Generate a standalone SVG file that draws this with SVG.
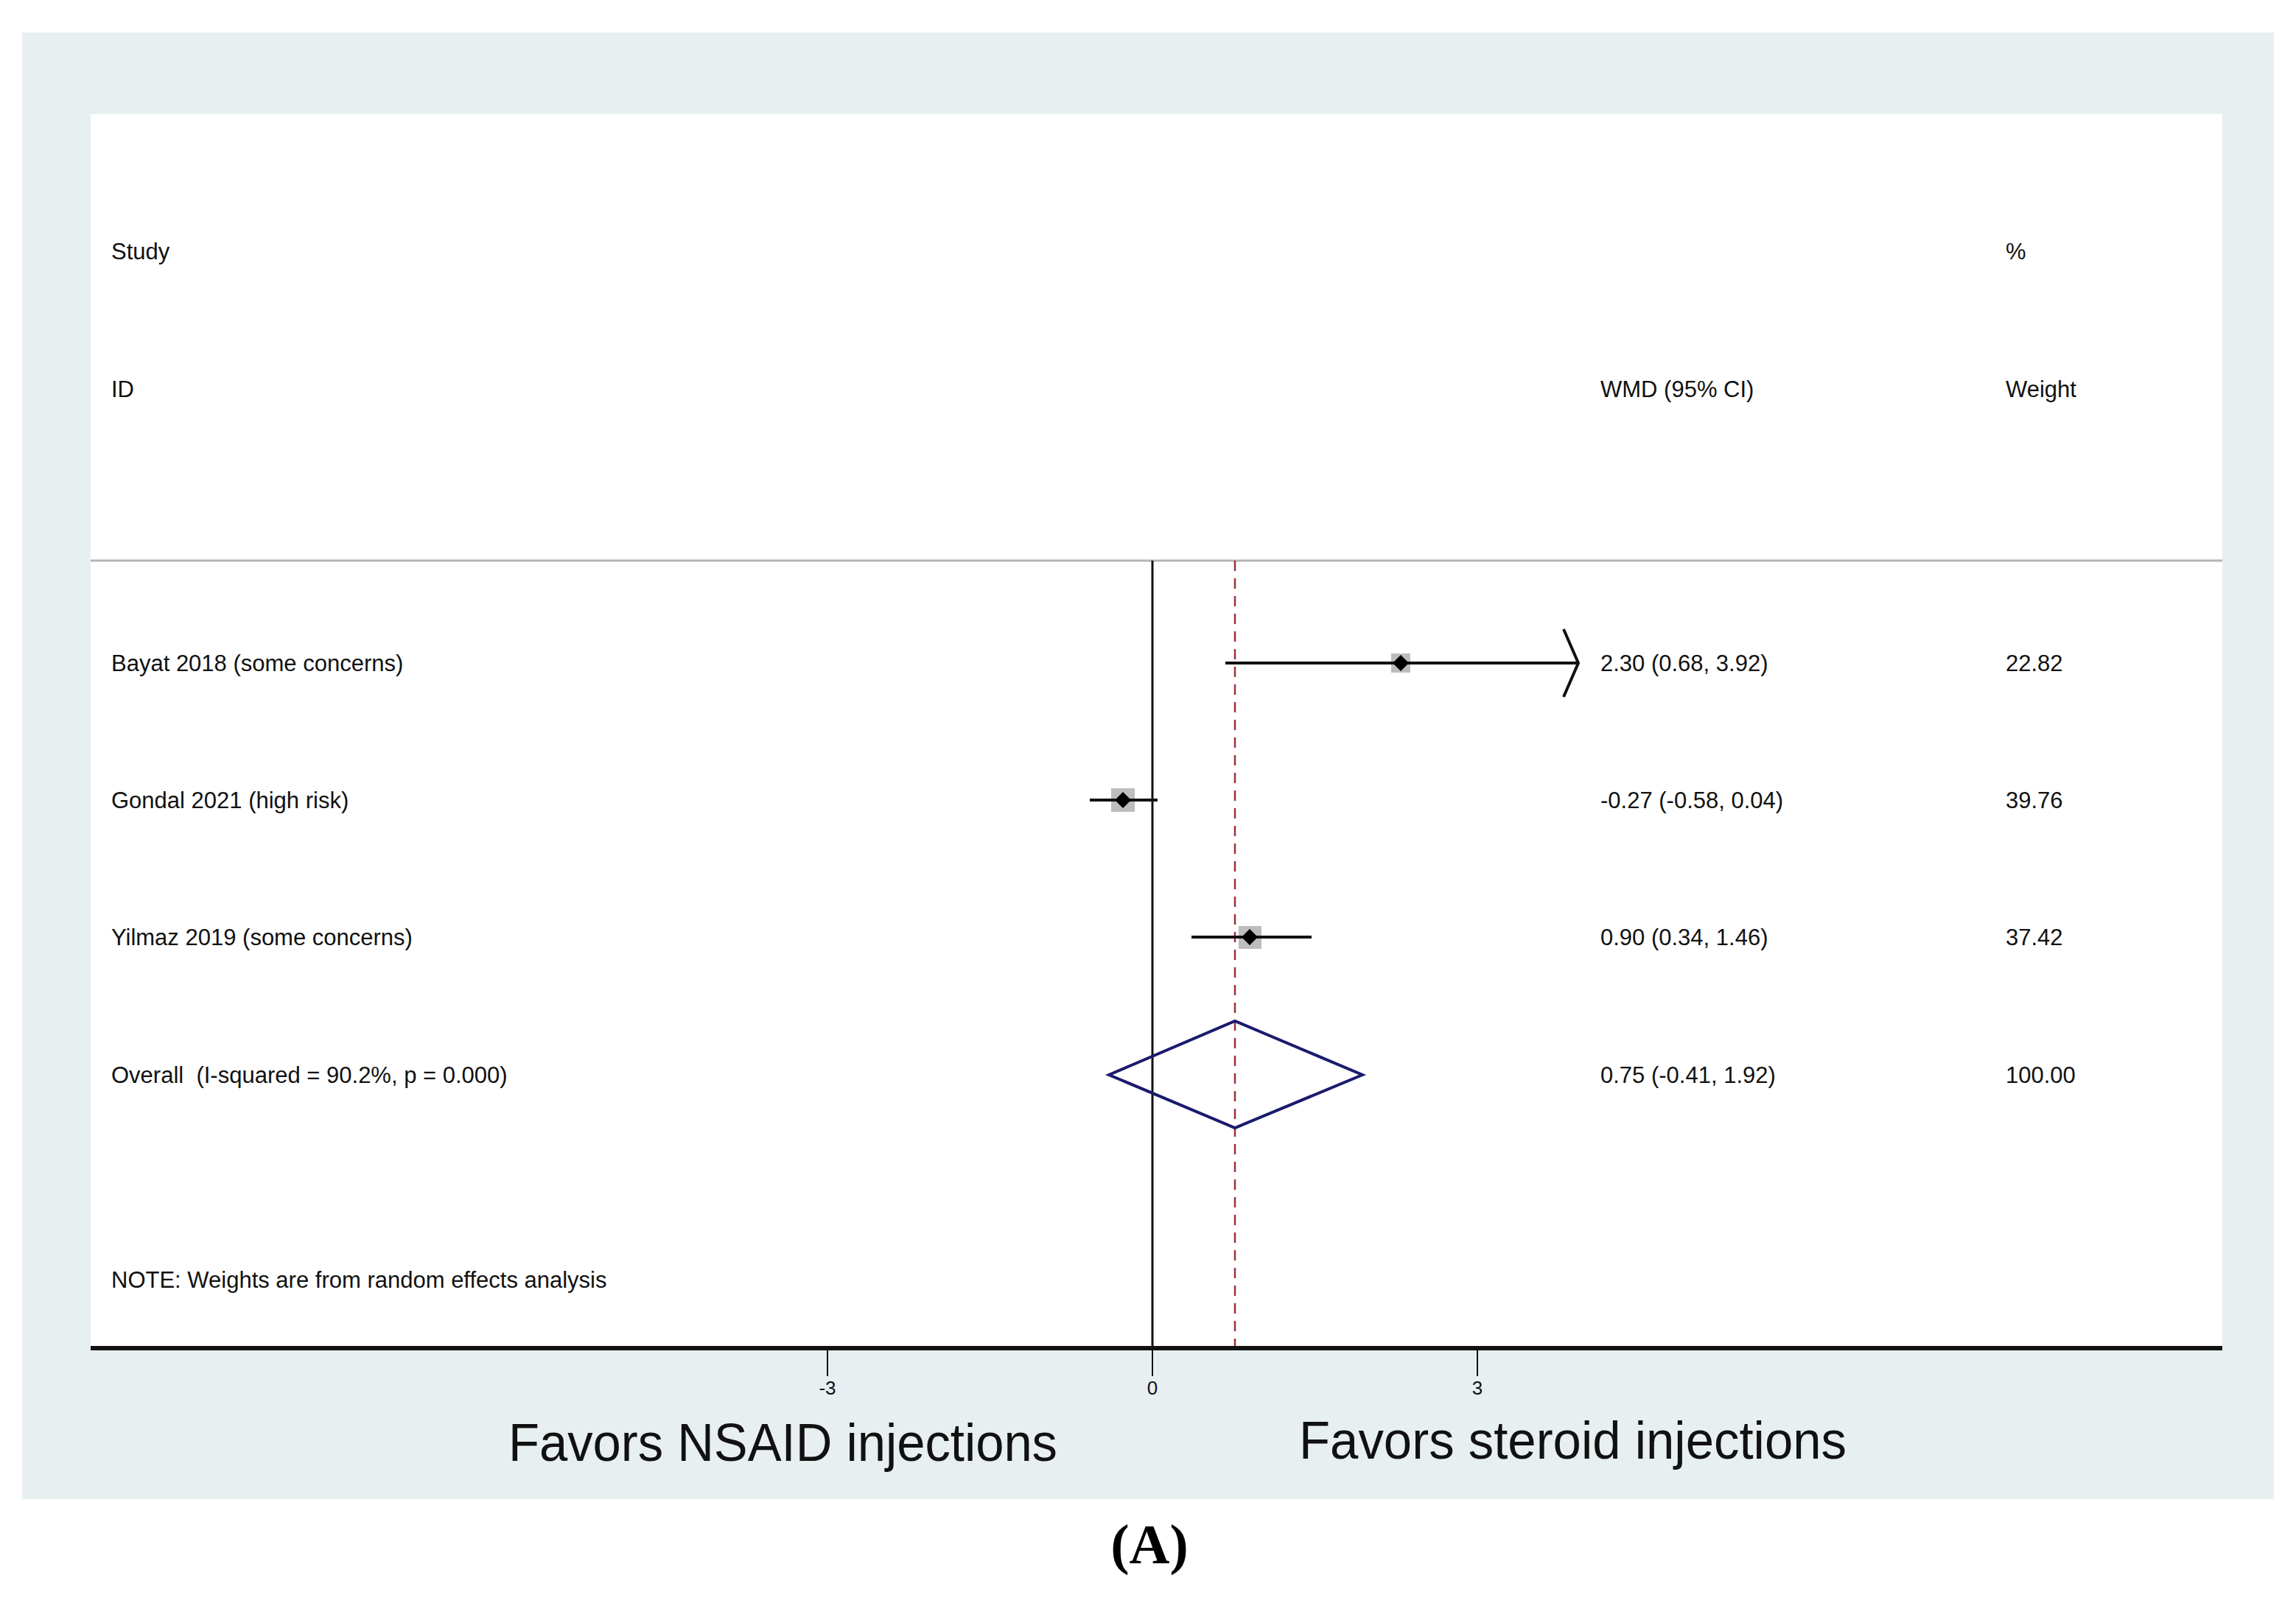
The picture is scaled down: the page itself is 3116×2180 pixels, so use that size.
<svg xmlns="http://www.w3.org/2000/svg" width="3116" height="2180" viewBox="0 0 3116 2180">
<style>
.t{font-family:"Liberation Sans",Arial,sans-serif;font-size:31px;fill:#111}
.ax{font-family:"Liberation Sans",Arial,sans-serif;font-size:26px;fill:#111;text-anchor:middle}
.big{font-family:"Liberation Sans",Arial,sans-serif;font-size:72px;fill:#111}
.ci{stroke:#111;stroke-width:4;fill:none}
.sq{fill:#bdbdbd}
.pt{fill:#000}
</style>
<rect width="3116" height="2180" fill="#fff"/>
<rect x="30" y="44" width="3056" height="1991" fill="#e8eff1"/>
<rect x="123" y="155" width="2893" height="1673" fill="#fff"/>
<line x1="123" y1="761" x2="3016" y2="761" stroke="#b5b5b5" stroke-width="3"/>
<g id="header">
<text class="t" x="151" y="352">Study</text>
<text class="t" x="151" y="539">ID</text>
<text class="t" x="2172" y="539">WMD (95% CI)</text>
<text class="t" x="2722" y="352">%</text>
<text class="t" x="2722" y="539">Weight</text>
</g>
<g id="axes">
<line x1="1564" y1="761" x2="1564" y2="1828" stroke="#111" stroke-width="3"/>
<line x1="1676" y1="761" x2="1676" y2="1828" stroke="#a0303a" stroke-width="2.5" stroke-dasharray="14,10"/>
<line x1="123" y1="1830" x2="3016" y2="1830" stroke="#111" stroke-width="6"/>
<line x1="1123" y1="1830" x2="1123" y2="1868" stroke="#111" stroke-width="2"/>
<line x1="1564" y1="1830" x2="1564" y2="1868" stroke="#111" stroke-width="2"/>
<line x1="2005" y1="1830" x2="2005" y2="1868" stroke="#111" stroke-width="2"/>
<text class="ax" x="1123" y="1893">-3</text>
<text class="ax" x="1564" y="1893">0</text>
<text class="ax" x="2005" y="1893">3</text>
<text class="big" x="690" y="1983" textLength="745" lengthAdjust="spacingAndGlyphs">Favors NSAID injections</text>
<text class="big" x="1763" y="1980" textLength="743" lengthAdjust="spacingAndGlyphs">Favors steroid injections</text>
</g>
<g id="bayat">
<text class="t" x="151" y="911">Bayat 2018 (some concerns)</text>
<rect class="sq" x="1888" y="887" width="26" height="26"/>
<line class="ci" x1="1663" y1="900" x2="2142" y2="900"/>
<polyline class="ci" points="2122,854 2142,900 2122,946"/>
<polygon class="pt" points="1901,889 1912,900 1901,911 1890,900"/>
<text class="t" x="2172" y="911">2.30 (0.68, 3.92)</text>
<text class="t" x="2722" y="911">22.82</text>
</g>
<g id="gondal">
<text class="t" x="151" y="1097">Gondal 2021 (high risk)</text>
<rect class="sq" x="1508" y="1070" width="32" height="32"/>
<line class="ci" x1="1479" y1="1086" x2="1571" y2="1086"/>
<polygon class="pt" points="1524,1075 1535,1086 1524,1097 1513,1086"/>
<text class="t" x="2172" y="1097">-0.27 (-0.58, 0.04)</text>
<text class="t" x="2722" y="1097">39.76</text>
</g>
<g id="yilmaz">
<text class="t" x="151" y="1283">Yilmaz 2019 (some concerns)</text>
<rect class="sq" x="1681" y="1257" width="31" height="31"/>
<line class="ci" x1="1617" y1="1272" x2="1780" y2="1272"/>
<polygon class="pt" points="1696,1261 1707,1272 1696,1283 1685,1272"/>
<text class="t" x="2172" y="1283">0.90 (0.34, 1.46)</text>
<text class="t" x="2722" y="1283">37.42</text>
</g>
<g id="overall">
<text class="t" x="151" y="1470" xml:space="preserve">Overall  (I-squared = 90.2%, p = 0.000)</text>
<polygon points="1505,1459 1676,1386 1849,1459 1676,1531" fill="none" stroke="#1a1a6e" stroke-width="4"/>
<text class="t" x="2172" y="1470">0.75 (-0.41, 1.92)</text>
<text class="t" x="2722" y="1470">100.00</text>
</g>
<text class="t" x="151" y="1748">NOTE: Weights are from random effects analysis</text>
<text x="1560" y="2122" text-anchor="middle" font-family="'Liberation Serif','Times New Roman',serif" font-size="76" font-weight="bold" fill="#000">(A)</text>
</svg>
